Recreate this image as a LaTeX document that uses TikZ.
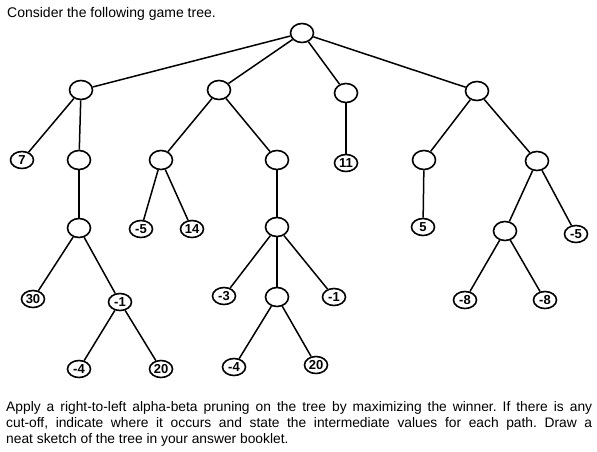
\documentclass[tikz,border=0pt]{standalone}
\usepackage{fontspec}
\setmainfont{Liberation Sans}
\usetikzlibrary{shapes.geometric}

\tikzset{
  blank/.style={draw, ellipse, line width=1.6pt, minimum width=23pt, minimum height=19pt, inner sep=0pt},
  leaf/.style={draw, ellipse, line width=1.6pt, minimum width=23pt, minimum height=17pt, inner sep=0pt,
    font=\fontsize{13}{13}\selectfont\bfseries},
  branch/.style={line width=1.5pt}
}

\begin{document}
\begin{tikzpicture}[x=1pt, y=-1pt]
\useasboundingbox (0,0) rectangle (597,451);

% texts
\node[anchor=base west, inner sep=0pt, font=\fontsize{14}{16}\selectfont] (title) at (7,17) {Consider the following game tree.};
\node[anchor=north west, inner sep=0pt, text width=586pt, align=justify,
  font=\fontsize{13.8}{16}\selectfont\frenchspacing] (task) at (6,401)
  {Apply a right-to-left alpha-beta pruning on the tree by maximizing the winner. If there is any\linebreak
   cut-off, indicate where it occurs and state the intermediate values for each path. Draw a\linebreak
   neat sketch of the tree in your answer booklet.};

% root and first level
\node[blank] (root) at (302,33) {};
\node[blank] (nA) at (81,90) {};
\node[blank] (nB) at (219,90) {};
\node[blank] (nC) at (346,93) {};
\node[blank] (nD) at (477,91) {};

% second level
\node[leaf]  (nAa) at (22,160) {7};
\node[blank] (nAb) at (79,160) {};
\node[blank] (nBa) at (161,160) {};
\node[blank] (nBb) at (277,160) {};
\node[leaf]  (nCa) at (346,163) {11};
\node[blank] (nDa) at (424,160) {};
\node[blank] (nDb) at (537,161) {};

% third level
\node[blank] (nAbx) at (79,228) {};
\node[leaf]  (nBax) at (141,229) {-5};
\node[leaf]  (nBay) at (192,229) {14};
\node[blank] (nBbx) at (277,227) {};
\node[leaf]  (nDax) at (423,227) {5};
\node[blank] (nDbx) at (505,231) {};
\node[leaf]  (nDby) at (576,234) {-5};

% fourth level
\node[leaf]  (nAbxa) at (33,299) {30};
\node[leaf]  (nAbxb) at (120,302) {-1};
\node[leaf]  (nBbxa) at (224,296) {-3};
\node[blank] (nBbxb) at (277,297) {};
\node[leaf]  (nBbxc) at (334,297) {-1};
\node[leaf]  (nDbxa) at (465,300) {-8};
\node[leaf]  (nDbxb) at (545,300) {-8};

% fifth level
\node[leaf] (nAbxbA) at (79,369) {-4};
\node[leaf] (nAbxbB) at (161,369) {20};
\node[leaf] (nBbxbA) at (234,367) {-4};
\node[leaf] (nBbxbB) at (316,365) {20};

% branches
\foreach \from/\to in {root/nA, root/nB, root/nC, root/nD,
  nA/nAa, nA/nAb, nB/nBa, nB/nBb, nC/nCa, nD/nDa, nD/nDb,
  nAb/nAbx, nBa/nBax, nBa/nBay, nBb/nBbx, nDa/nDax, nDb/nDbx, nDb/nDby,
  nAbx/nAbxa, nAbx/nAbxb, nBbx/nBbxa, nBbx/nBbxb, nBbx/nBbxc, nDbx/nDbxa, nDbx/nDbxb,
  nAbxb/nAbxbA, nAbxb/nAbxbB, nBbxb/nBbxbA, nBbxb/nBbxbB}
  \draw[branch] (\from) -- (\to);
\end{tikzpicture}
\end{document}
